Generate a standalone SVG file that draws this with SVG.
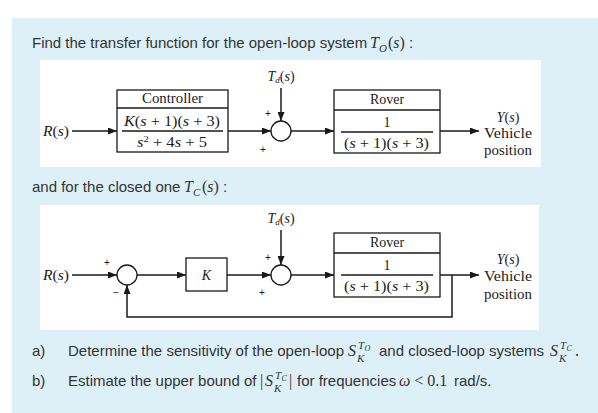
<svg xmlns="http://www.w3.org/2000/svg" width="598" height="413" viewBox="0 0 598 413">
<defs>
<marker id="ah" markerUnits="userSpaceOnUse" markerWidth="9" markerHeight="7" refX="9" refY="3.5" orient="auto">
<path d="M0,0 L9,3.5 L0,7 Z" fill="#1a1a1a"/>
</marker>
<style>
.t{font-family:"Liberation Sans",Arial,sans-serif;font-size:15px;fill:#333}
.m{font-family:"Liberation Serif","Times New Roman",serif;font-size:16px;fill:#333}
.ms{font-family:"Liberation Serif","Times New Roman",serif;font-size:11px;font-style:italic;fill:#333}
.mss{font-family:"Liberation Serif","Times New Roman",serif;font-size:8px;font-style:italic;fill:#333}
.mi{font-style:italic}
.d{font-family:"Liberation Serif","Times New Roman",serif;font-size:14px;fill:#1a1a1a}
.p{font-family:"Liberation Sans",Arial,sans-serif;font-size:10px;fill:#1a1a1a;text-anchor:middle}
.c{text-anchor:middle}
.ln{stroke:#1a1a1a;stroke-width:1.5;fill:none}
.bx{stroke:#1a1a1a;stroke-width:1.3;fill:#fff}
.ar{stroke:#1a1a1a;stroke-width:1.5;fill:none;marker-end:url(#ah)}
</style>
</defs>
<rect x="12" y="18" width="586" height="395" fill="#def0f7"/>
<rect x="40" y="60" width="501" height="107" fill="#fff"/>
<rect x="40" y="205" width="499" height="125" fill="#fff"/>

<text class="t" x="32" y="48">Find the transfer function for the open-loop system</text>
<text class="m mi" x="370" y="48">T</text>
<text class="ms" x="379" y="52">O</text>
<text class="m" x="388" y="48">(<tspan class="mi">s</tspan>)</text>
<text class="t" x="409" y="48">:</text>

<text class="t" x="32" y="192">and for the closed one</text>
<text class="m mi" x="184" y="192">T</text>
<text class="ms" x="193" y="196">C</text>
<text class="m" x="202" y="192">(<tspan class="mi">s</tspan>)</text>
<text class="t" x="223" y="192">:</text>

<!-- top diagram -->
<g id="connectors-top">
<line class="ar" x1="72" y1="131" x2="117" y2="131"/>
<line class="ar" x1="228" y1="131" x2="271" y2="131"/>
<line class="ar" x1="281" y1="88" x2="281" y2="121"/>
<line class="ar" x1="291" y1="131" x2="334" y2="131"/>
<line class="ar" x1="440" y1="131" x2="479" y2="131"/>
</g>
<g id="R-top"><text class="d" x="43" y="136" textLength="26" lengthAdjust="spacingAndGlyphs"><tspan class="mi">R</tspan>(<tspan class="mi">s</tspan>)</text></g>
<g id="controller">
<rect class="bx" x="117" y="90" width="111" height="62"/>
<line class="ln" x1="117" y1="108" x2="228" y2="108" stroke-width="1.2"/>
<text class="d" x="142" y="103" textLength="61" lengthAdjust="spacingAndGlyphs">Controller</text>
<text class="d" x="124" y="126" textLength="96" lengthAdjust="spacingAndGlyphs"><tspan class="mi">K</tspan>(<tspan class="mi">s</tspan> + 1)(<tspan class="mi">s</tspan> + 3)</text>
<line class="ln" x1="122" y1="131" x2="223" y2="131" stroke-width="1"/>
<text class="d" x="137" y="147" textLength="70" lengthAdjust="spacingAndGlyphs"><tspan class="mi">s</tspan><tspan font-size="9" dy="-5">2</tspan><tspan dy="5"> + 4</tspan><tspan class="mi">s</tspan> + 5</text>
</g>
<g id="sum-top">
<circle class="bx" cx="281" cy="131" r="10"/>
<text class="p" x="268" y="117">+</text>
<text class="p" x="263" y="153">+</text>
</g>
<g id="Td-top"><text class="d c" x="281" y="81"><tspan class="mi">T</tspan><tspan class="mi" font-size="9" dy="2">d</tspan><tspan dy="-2">(</tspan><tspan class="mi">s</tspan>)</text></g>
<g id="rover-top">
<rect class="bx" x="334" y="90" width="106" height="63"/>
<line class="ln" x1="334" y1="110" x2="440" y2="110" stroke-width="1.2"/>
<text class="d c" x="387" y="104">Rover</text>
<text class="d c" x="387" y="127">1</text>
<line class="ln" x1="341" y1="132" x2="433" y2="132" stroke-width="1"/>
<text class="d" x="344" y="148" textLength="85" lengthAdjust="spacingAndGlyphs">(<tspan class="mi">s</tspan> + 1)(<tspan class="mi">s</tspan> + 3)</text>
</g>
<g id="Y-top">
<text class="d c" x="508" y="122"><tspan class="mi">Y</tspan>(<tspan class="mi">s</tspan>)</text>
<text class="d" x="484" y="138" textLength="48" lengthAdjust="spacingAndGlyphs">Vehicle</text>
<text class="d" x="484" y="155" textLength="48" lengthAdjust="spacingAndGlyphs">position</text>
</g>

<!-- bottom diagram -->
<g id="connectors-bottom">
<line class="ar" x1="72" y1="275" x2="117" y2="275"/>
<line class="ar" x1="137" y1="275" x2="186" y2="275"/>
<line class="ar" x1="227" y1="275" x2="271" y2="275"/>
<line class="ar" x1="281" y1="230" x2="281" y2="265"/>
<line class="ar" x1="291" y1="275" x2="334" y2="275"/>
<line class="ar" x1="440" y1="275" x2="479" y2="275"/>
<polyline class="ar" points="452,275 452,317 127,317 127,285"/>
</g>
<g id="R-bottom"><text class="d" x="43" y="280" textLength="26" lengthAdjust="spacingAndGlyphs"><tspan class="mi">R</tspan>(<tspan class="mi">s</tspan>)</text></g>
<g id="sum1">
<circle class="bx" cx="127" cy="275" r="10"/>
<text class="p" x="107" y="266">+</text>
<text class="p" x="116" y="296">−</text>
</g>
<g id="K-block">
<rect class="bx" x="186" y="258" width="41" height="33"/>
<text class="d c mi" x="206.5" y="280">K</text>
</g>
<g id="sum2">
<circle class="bx" cx="281" cy="275" r="10"/>
<text class="p" x="268" y="261">+</text>
<text class="p" x="262" y="296">+</text>
</g>
<g id="Td-bottom"><text class="d c" x="281" y="223"><tspan class="mi">T</tspan><tspan class="mi" font-size="9" dy="2">d</tspan><tspan dy="-2">(</tspan><tspan class="mi">s</tspan>)</text></g>
<g id="rover-bottom">
<rect class="bx" x="334" y="233" width="106" height="64"/>
<line class="ln" x1="334" y1="253" x2="440" y2="253" stroke-width="1.2"/>
<text class="d c" x="387" y="247">Rover</text>
<text class="d c" x="387" y="270">1</text>
<line class="ln" x1="341" y1="275" x2="433" y2="275" stroke-width="1"/>
<text class="d" x="344" y="291" textLength="85" lengthAdjust="spacingAndGlyphs">(<tspan class="mi">s</tspan> + 1)(<tspan class="mi">s</tspan> + 3)</text>
</g>
<g id="Y-bottom">
<text class="d c" x="508" y="264"><tspan class="mi">Y</tspan>(<tspan class="mi">s</tspan>)</text>
<text class="d" x="484" y="281" textLength="48" lengthAdjust="spacingAndGlyphs">Vehicle</text>
<text class="d" x="484" y="299" textLength="48" lengthAdjust="spacingAndGlyphs">position</text>
</g>

<!-- questions -->
<text class="t" x="32" y="356">a)</text>
<text class="t" x="68" y="356">Determine the sensitivity of the open-loop</text>
<text class="m mi" x="348" y="356">S</text>
<text class="ms" x="358" y="349">T</text>
<text class="mss" x="364.5" y="351">O</text>
<text class="ms" x="357" y="362">K</text>
<text class="t" x="379" y="356">and closed-loop systems</text>
<text class="m mi" x="550" y="356">S</text>
<text class="ms" x="560" y="349">T</text>
<text class="mss" x="566.5" y="351">C</text>
<text class="ms" x="559" y="362">K</text>
<text class="m" x="575" y="356">.</text>

<text class="t" x="32" y="386">b)</text>
<text class="t" x="68" y="386">Estimate the upper bound of</text>
<text class="m" x="260" y="386">|</text>
<text class="m mi" x="265" y="386">S</text>
<text class="ms" x="275" y="379">T</text>
<text class="mss" x="281.5" y="381">C</text>
<text class="ms" x="274" y="392">K</text>
<text class="m" x="289" y="386">|</text>
<text class="t" x="297" y="386">for frequencies</text>
<text class="m" x="399" y="386"><tspan class="mi">ω</tspan> &lt; 0.1</text>
<text class="t" x="454" y="386">rad/s.</text>
</svg>
